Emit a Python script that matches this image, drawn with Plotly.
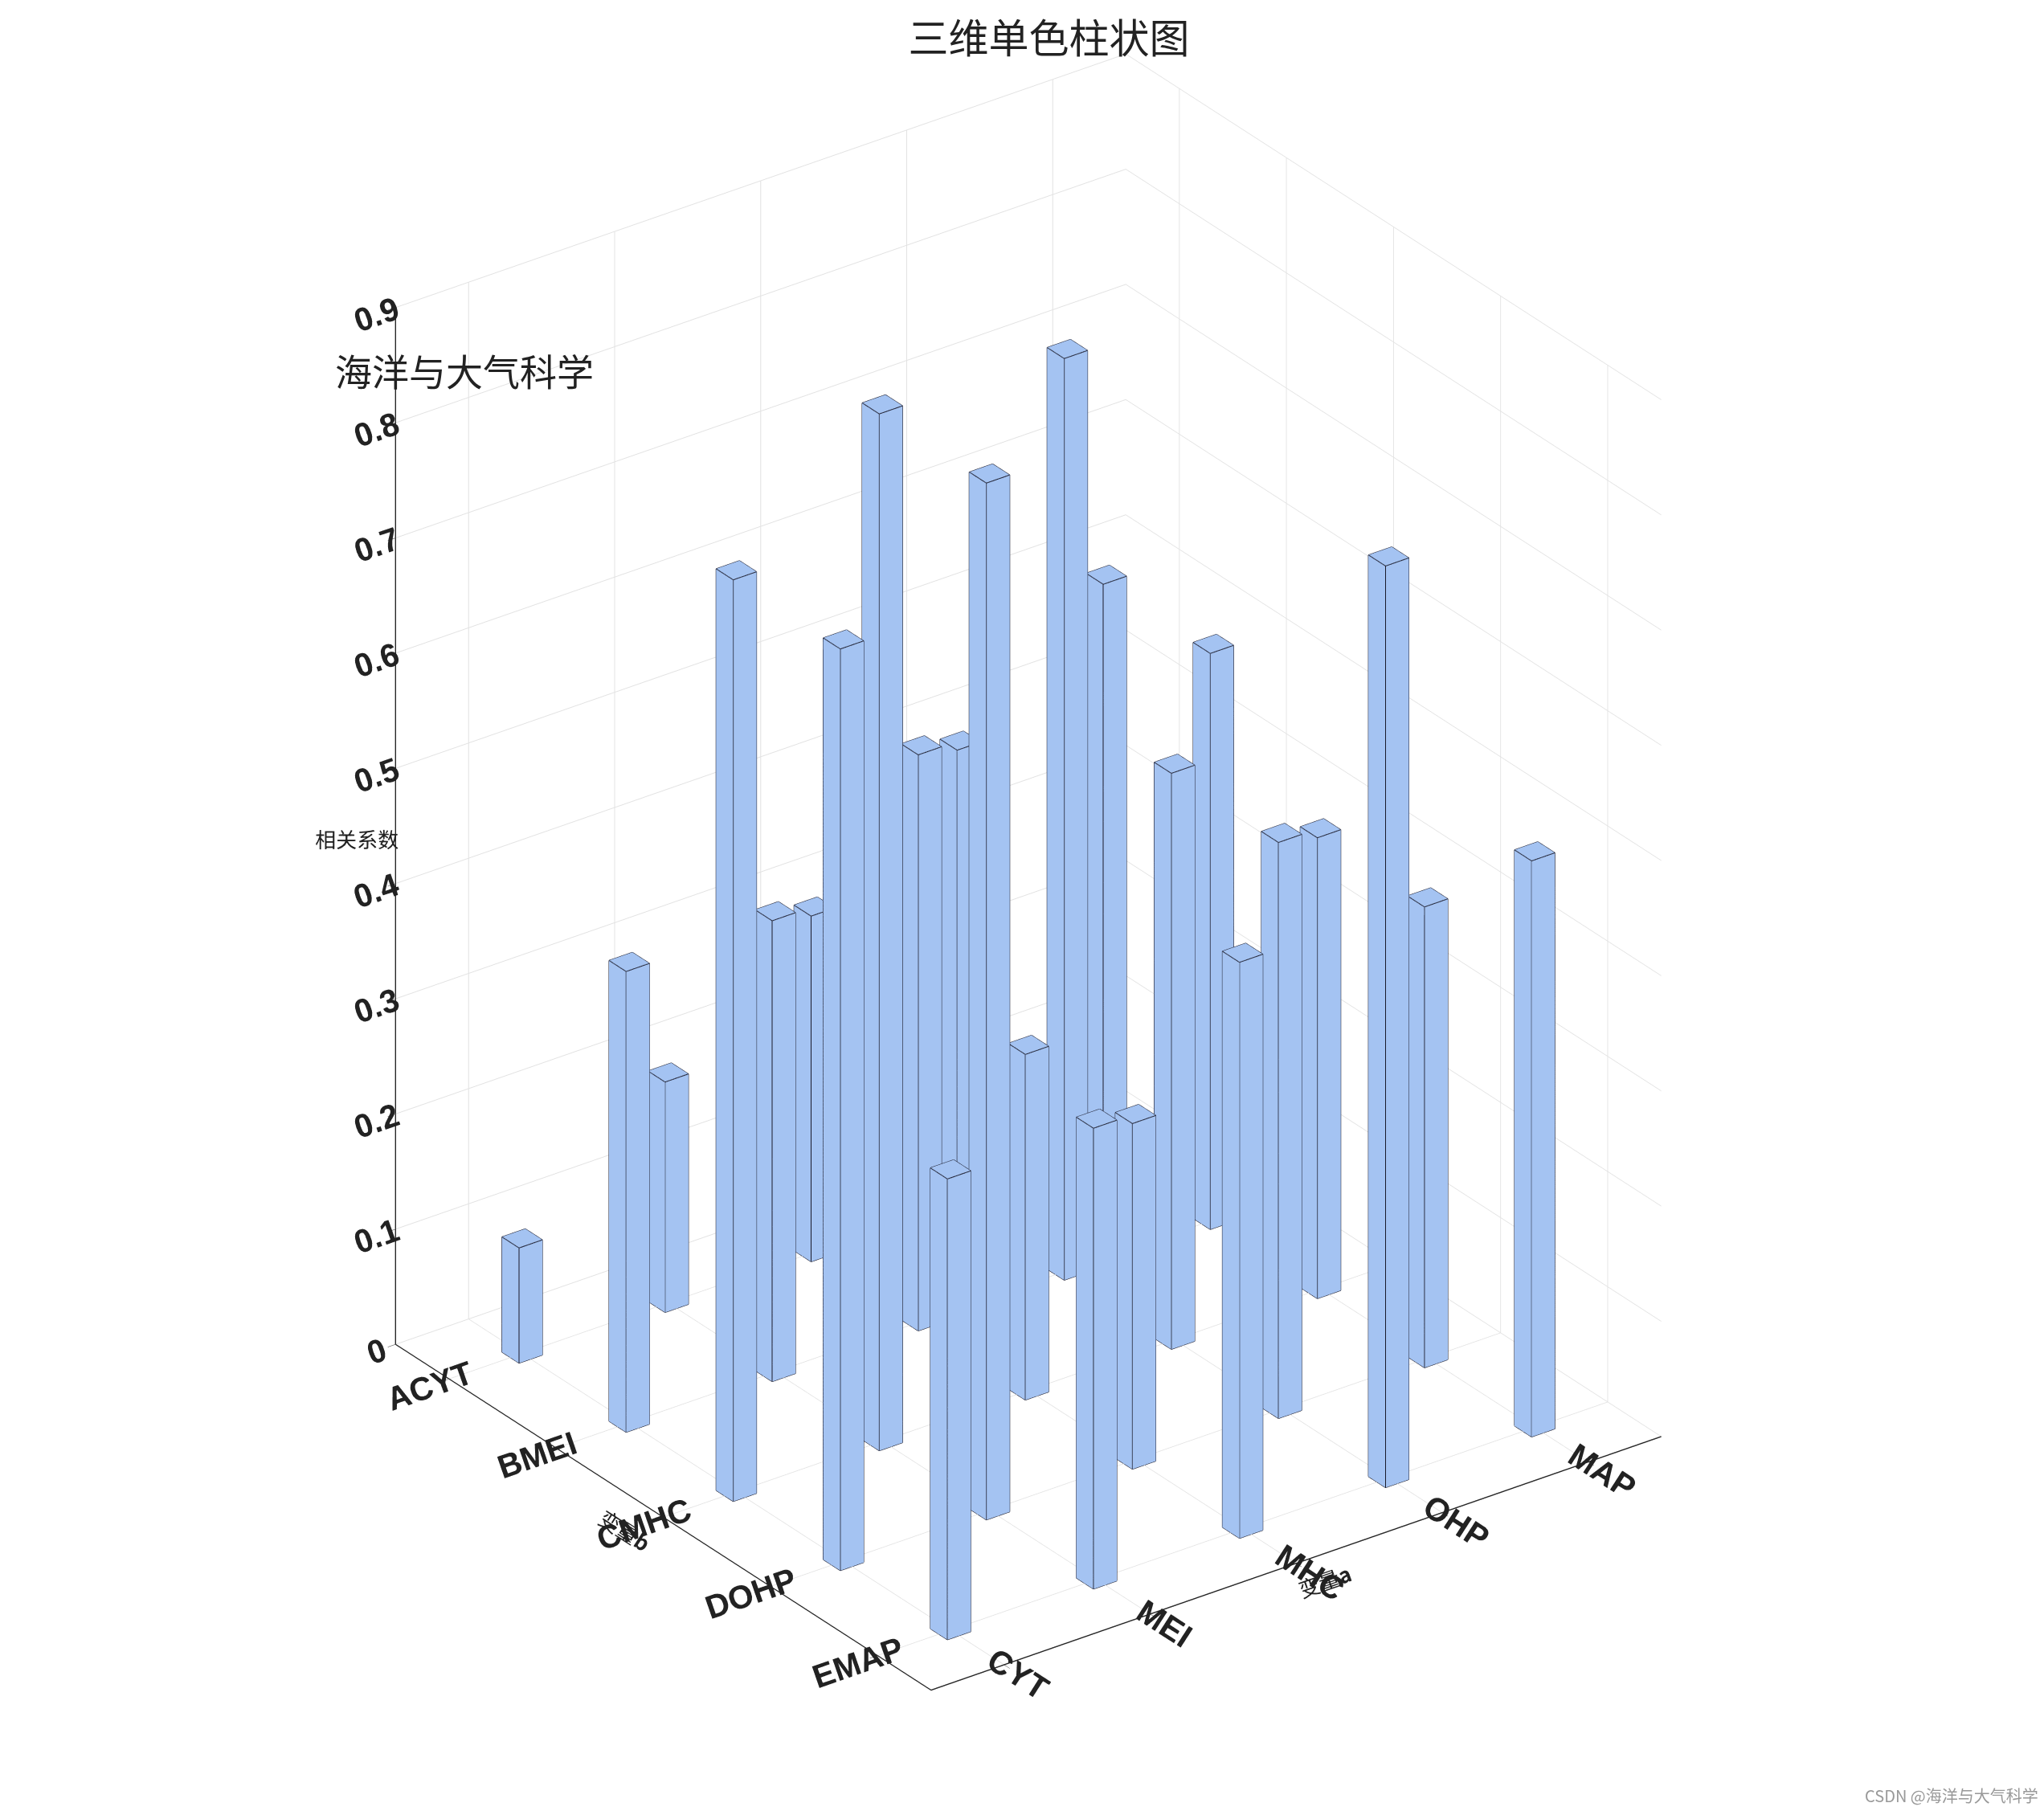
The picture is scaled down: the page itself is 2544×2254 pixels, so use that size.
import plotly.graph_objects as go

var_a = ["CYT", "MEI", "MHC", "OHP", "MAP"]
var_b = ["ACYT", "BMEI", "CMHC", "DOHP", "EMAP"]
# rows = var_b, cols = var_a
corr = [
    [0.1, 0.2, 0.3, 0.4, 0.5],
    [0.4, 0.4, 0.5, 0.8, 0.5],
    [0.8, 0.9, 0.3, 0.5, 0.4],
    [0.8, 0.9, 0.3, 0.5, 0.4],
    [0.4, 0.4, 0.5, 0.8, 0.5],
]
z_ticks = [0, 0.1, 0.2, 0.3, 0.4, 0.5, 0.6, 0.7, 0.8, 0.9]

w = 0.08  # half width of a bar
X, Y, Z, I, J, K = [], [], [], [], [], []
ex, ey, ez = [], [], []
faces = [(0, 1, 2), (0, 2, 3), (4, 5, 6), (4, 6, 7),
         (0, 1, 5), (0, 5, 4), (1, 2, 6), (1, 6, 5),
         (2, 3, 7), (2, 7, 6), (3, 0, 4), (3, 4, 7)]
edges = [(0, 1), (1, 2), (2, 3), (3, 0), (4, 5), (5, 6), (6, 7), (7, 4),
         (0, 4), (1, 5), (2, 6), (3, 7)]
for bi in range(len(var_b)):
    for ai in range(len(var_a)):
        h = corr[bi][ai]
        cx, cy = bi + 1, ai + 1
        base = len(X)
        pts = []
        for zz in (0, h):
            for dx, dy in ((-w, -w), (w, -w), (w, w), (-w, w)):
                pts.append((cx + dx, cy + dy, zz))
        for p in pts:
            X.append(p[0]); Y.append(p[1]); Z.append(p[2])
        for f in faces:
            I.append(base + f[0]); J.append(base + f[1]); K.append(base + f[2])
        for e0, e1 in edges:
            for p in (pts[e0], pts[e1]):
                ex.append(p[0]); ey.append(p[1]); ez.append(p[2])
            ex.append(None); ey.append(None); ez.append(None)

fig = go.Figure()
fig.add_trace(go.Mesh3d(x=X, y=Y, z=Z, i=I, j=J, k=K, color="#a4c3f2",
                        flatshading=True, opacity=1,
                        lighting=dict(ambient=1.0, diffuse=0.12, specular=0.0, fresnel=0),
                        lightposition=dict(x=100, y=-50, z=200), hoverinfo="skip"))
fig.add_trace(go.Scatter3d(x=ex, y=ey, z=ez, mode="lines",
                           line=dict(color="#1a1a2a", width=2), hoverinfo="skip"))

tick_font = dict(family="Liberation Sans", size=22, color="#222222", weight="bold")
title_font = dict(family="Noto Sans CJK SC", size=26, color="#222222")
axis_common = dict(showgrid=True, gridcolor="#e2e2e2", gridwidth=2, showbackground=False,
                   showline=True, linecolor="#262626", linewidth=3, ticks="outside",
                   tickcolor="#262626", ticklen=12, tickfont=tick_font, zeroline=False,
                   showspikes=False)
fig.update_layout(
    width=2544, height=2254, paper_bgcolor="white", showlegend=False,
    margin=dict(l=0, r=0, t=0, b=0),
    title=dict(text="三维单色柱状图", x=0.51, y=0.99,
               font=dict(family="Noto Sans CJK SC", size=50, color="#222222")),
    scene=dict(
        domain=dict(x=[0, 1], y=[0, 1]),
        xaxis=dict(axis_common, range=[0.5, 5.5], tickvals=[1, 2, 3, 4, 5], ticktext=var_b,
                   title=dict(text="变量<b>b</b>", font=title_font)),
        yaxis=dict(axis_common, range=[0.5, 5.5], tickvals=[1, 2, 3, 4, 5], ticktext=var_a,
                   title=dict(text="变量<b>a</b>", font=title_font)),
        zaxis=dict(axis_common, range=[0, 0.9], tickvals=z_ticks,
                   ticktext=[str(t) for t in z_ticks],
                   title=dict(text="相关系数", font=title_font)),
        aspectmode="manual", aspectratio=dict(x=1, y=1, z=1.3),
        camera=dict(eye=dict(x=1.5, y=-1.1, z=0.95), center=dict(x=0, y=0, z=-0.05),
                    projection=dict(type="orthographic")),
    ),
    annotations=[
        dict(text="海洋与大气科学", x=0.16, y=0.815, xref="paper", yref="paper",
             showarrow=False, xanchor="left",
             font=dict(family="Noto Sans CJK SC", size=46, color="#222222")),
        dict(text="CSDN @海洋与大气科学", x=0.995, y=0.005, xref="paper", yref="paper",
             showarrow=False, xanchor="right", yanchor="bottom",
             font=dict(family="Noto Sans CJK SC", size=20, color="#999999")),
    ],
)
fig.write_html("out.html")
